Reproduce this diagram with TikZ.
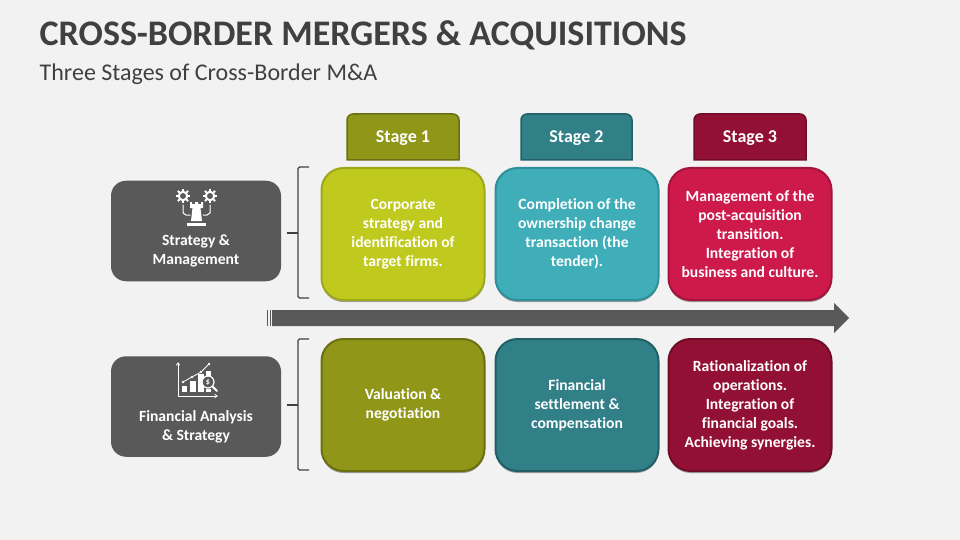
\documentclass[tikz,border=0pt]{standalone}
\usepackage{fontspec}
\setmainfont[Ligatures={NoCommon}]{Carlito}
\usetikzlibrary{shadows}

\definecolor{pagebg}{HTML}{F2F2F2}
\definecolor{inkgray}{HTML}{404040}
\definecolor{boxgray}{HTML}{595959}
\definecolor{limefill}{HTML}{C0CA1E}
\definecolor{limeline}{HTML}{9FA71A}
\definecolor{tealfill}{HTML}{3FAEB8}
\definecolor{tealline}{HTML}{2F8F98}
\definecolor{redfill}{HTML}{CD1A4B}
\definecolor{redline}{HTML}{A3143C}
\definecolor{olivefill}{HTML}{8F9618}
\definecolor{oliveline}{HTML}{6A6F12}
\definecolor{deepfill}{HTML}{317F87}
\definecolor{deepline}{HTML}{235F66}
\definecolor{winefill}{HTML}{931035}
\definecolor{wineline}{HTML}{700C28}

\tikzset{
  card/.style={rectangle,rounded corners=22pt,minimum width=163pt,minimum height=132pt,
    line width=2pt,text=white,align=center,font=\fontsize{15.6}{19}\selectfont\bfseries,
    drop shadow={shadow xshift=0pt,shadow yshift=-2pt,opacity=.35,fill=black}},
  rowbox/.style={rectangle,rounded corners=15pt,fill=boxgray,minimum width=170pt,minimum height=100.5pt,inner sep=0pt},
  rowlabel/.style={text=white,align=center,font=\fontsize{15.6}{19}\selectfont\bfseries},
  tab/.style={line width=1.5pt},
  tablabel/.style={text=white,font=\fontsize{18}{19}\selectfont\bfseries},
  brace/.style={draw=inkgray,line width=1.3pt,rounded corners=1.5pt},
  iconline/.style={draw=white,line width=1pt,line cap=round}
}

\begin{document}
\begin{tikzpicture}[x=1pt,y=-1pt]
  \useasboundingbox[fill=pagebg] (0,0) rectangle (960,540);

  \node[anchor=west,inner sep=0pt,text=inkgray,font=\fontsize{36}{40}\selectfont\bfseries] (title) at (39.5,35) {CROSS-BORDER MERGERS \& ACQUISITIONS};
  \node[anchor=west,inner sep=0pt,text=inkgray,font=\fontsize{24}{28}\selectfont] (subtitle) at (39.5,74.5) {Three Stages of Cross-Border M\&A};

  % stage tabs
  \draw[tab,fill=olivefill,draw=oliveline] (347,160) [rounded corners=6pt] -- (347,114) -- (459,114) [sharp corners] -- (459,160) -- cycle;
  \draw[tab,fill=deepfill,draw=deepline] (521,160) [rounded corners=6pt] -- (521,114) -- (632,114) [sharp corners] -- (632,160) -- cycle;
  \draw[tab,fill=winefill,draw=wineline] (694,160) [rounded corners=6pt] -- (694,114) -- (806,114) [sharp corners] -- (806,160) -- cycle;
  \node[tablabel] (s1) at (403,138.5) {Stage 1};
  \node[tablabel] (s2) at (576.5,138.5) {Stage 2};
  \node[tablabel] (s3) at (750,138.5) {Stage 3};

  % upper row
  \node[card,fill=limefill,draw=limeline] (c1) at (403,234) {Corporate\\strategy and\\identification of\\target firms.};
  \node[card,fill=tealfill,draw=tealline] (c2) at (577,234) {Completion of the\\ownership change\\transaction (the\\tender).};
  \node[card,fill=redfill,draw=redline] (c3) at (750,234) {Management of the\\post-acquisition\\transition.\\Integration of\\business and culture.};

  % lower row
  \node[card,fill=olivefill,draw=oliveline] (c4) at (403,405) {Valuation \&\\negotiation};
  \node[card,fill=deepfill,draw=deepline] (c5) at (577,405) {Financial\\settlement \&\\compensation};
  \node[card,fill=winefill,draw=wineline] (c6) at (750,405) {Rationalization of\\operations.\\Integration of\\financial goals.\\Achieving synergies.};

  % row boxes
  \node[rowbox] (r1) at (196,231) {};
  \node[rowbox] (r2) at (196,406.5) {};
  \node[rowlabel] (l1) at (196,251) {Strategy \&\\Management};
  \node[rowlabel] (l2) at (196,426.5) {Financial Analysis\\\& Strategy};

  % braces
  \coordinate (b1) at (287,233);
  \coordinate (b2) at (287,405);
  \draw[brace] (309,167) -- (298,167) -- (298,298) -- (309,298);
  \draw[brace] (b1) -- (298,233);
  \draw[brace] (309,339) -- (298,339) -- (298,470) -- (309,470);
  \draw[brace] (b2) -- (298,405);

  % time arrow
  \fill[boxgray] (272,310) -- (834,310) -- (834,303) -- (849,318) -- (834,333) -- (834,326) -- (272,326) -- cycle;
  \fill[boxgray] (267,310) rectangle (268,326);
  \fill[boxgray] (269.5,310) rectangle (270.5,326);

  % strategy icon
  \foreach \gx in {183,210} {
    \draw[white,line width=2pt] (\gx,196) circle (4.2);
    \foreach \ang in {0,45,...,315}
      \draw[white,line width=2pt] (\gx,196) ++(\ang:5) -- ++(\ang:2.2);
  }
  \draw[iconline] (183,205) -- (183,213) -- (186,215) -- (190,215);
  \draw[iconline] (210,205) -- (210,213) -- (207,215) -- (203,215);
  \fill[white] (190,202) -- (192,202) -- (192,204) -- (195,204) -- (195,202) -- (198,202) -- (198,204) -- (201,204) -- (201,202) -- (203,202) -- (203,208) -- (190,208) -- cycle;
  \fill[white] (192.5,208) -- (200.5,208) -- (202,221) -- (191,221) -- cycle;
  \fill[white] (187,222.5) rectangle (206,226);

  % financial icon
  \draw[iconline,line width=.9pt] (178,363) -- (178,396) -- (217,396);
  \draw[iconline,line width=.9pt] (176.5,365) -- (178,363) -- (179.5,365);
  \draw[iconline,line width=.9pt] (215,394.5) -- (217,396) -- (215,397.5);
  \fill[white] (182,386) rectangle (187,392);
  \fill[white] (190,381) rectangle (196,392);
  \fill[white] (198,374) rectangle (204,392);
  \fill[white] (206,371) rectangle (211,376);
  \fill[white] (206,389) rectangle (211,392);
  \draw[iconline,line width=.8pt] (183,382) -- (192,377) -- (201,372) -- (209,364);
  \foreach \px/\py in {183/382,192/377,201/372,209/364}
    \fill[white] (\px,\py) circle (1.3);
  \draw[draw=white,fill=boxgray,line width=1.2pt] (208,382) circle (6);
  \draw[iconline,line width=1.8pt] (212.5,386.5) -- (217,391);
  \node[text=white,inner sep=0pt,font=\fontsize{8}{8}\selectfont\bfseries] (dollar) at (208,382) {\$};
\end{tikzpicture}
\end{document}
